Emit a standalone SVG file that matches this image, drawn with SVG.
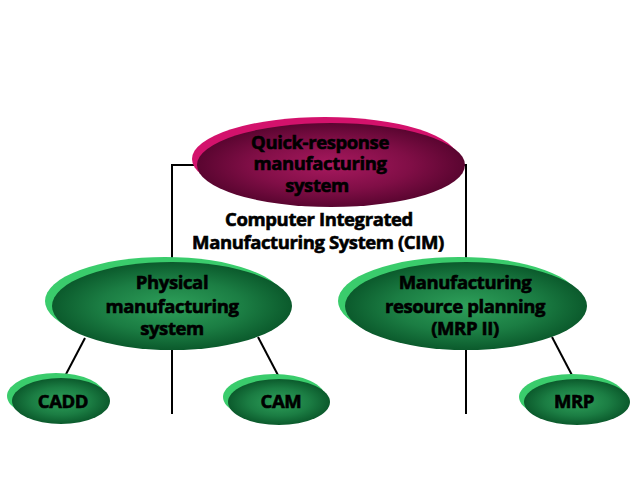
<svg xmlns="http://www.w3.org/2000/svg" width="638" height="479" viewBox="0 0 638 479">
<defs>
<radialGradient id="gG" cx="50%" cy="50%" r="50%">
<stop offset="0" stop-color="#2ea05a"/>
<stop offset="0.6" stop-color="#1b7d43"/>
<stop offset="1" stop-color="#0b5a2c"/>
</radialGradient>
<radialGradient id="gM" cx="50%" cy="50%" r="50%">
<stop offset="0" stop-color="#a8195f"/>
<stop offset="0.6" stop-color="#800e46"/>
<stop offset="1" stop-color="#5a0530"/>
</radialGradient>
</defs>
<style>
.bg{fill:#3acc6c}
.bm{fill:#d3126c}
.fg{fill:url(#gG)}
.fm{fill:url(#gM)}
.t{font-family:"Open Sans","Liberation Sans",sans-serif;font-weight:700;font-size:18.5px;letter-spacing:-0.4px;fill:#000;text-anchor:middle;stroke:#000;stroke-width:0.6px}
.c{fill:none;stroke:#000;stroke-width:2}
</style>
<rect width="638" height="479" fill="#fff"/>
<g id="connectors">
<polyline class="c" points="198,165 172,165 172,262"/>
<polyline class="c" points="460,165 466,165 466,262"/>
<line class="c" x1="172" y1="350" x2="172" y2="414"/>
<line class="c" x1="466" y1="350" x2="466" y2="414"/>
<line class="c" x1="85" y1="338" x2="64" y2="378"/>
<line class="c" x1="258" y1="337" x2="280" y2="379"/>
<line class="c" x1="552" y1="337" x2="574" y2="379"/>
</g>
<g id="qrm">
<ellipse class="bm" cx="325" cy="159" rx="133" ry="42"/>
<ellipse class="fm" cx="331" cy="165" rx="134" ry="42"/>
<text class="t" x="320" y="149">Quick-response</text>
<text class="t" x="320" y="170">manufacturing</text>
<text class="t" x="317" y="192">system</text>
</g>
<g id="cim">
<text class="t" x="319" y="226">Computer Integrated</text>
<text class="t" x="318" y="249">Manufacturing System (CIM)</text>
</g>
<g id="physical">
<ellipse class="bg" cx="165" cy="301" rx="120" ry="44"/>
<ellipse class="fg" cx="172" cy="306" rx="120" ry="44"/>
<text class="t" x="172" y="289">Physical</text>
<text class="t" x="172" y="313">manufacturing</text>
<text class="t" x="172" y="335">system</text>
</g>
<g id="mrp2">
<ellipse class="bg" cx="459" cy="301" rx="121" ry="44"/>
<ellipse class="fg" cx="466" cy="306" rx="121" ry="44"/>
<text class="t" x="465" y="289">Manufacturing</text>
<text class="t" x="465" y="313">resource planning</text>
<text class="t" x="465" y="335">(MRP II)</text>
</g>
<g id="cadd">
<ellipse class="bg" cx="56" cy="396" rx="49" ry="23"/>
<ellipse class="fg" cx="61" cy="401" rx="49" ry="23"/>
<text class="t" x="63" y="408">CADD</text>
</g>
<g id="cam">
<ellipse class="bg" cx="274" cy="397" rx="51" ry="23"/>
<ellipse class="fg" cx="279" cy="402" rx="51" ry="23"/>
<text class="t" x="281" y="408">CAM</text>
</g>
<g id="mrp">
<ellipse class="bg" cx="572" cy="397" rx="53" ry="23"/>
<ellipse class="fg" cx="577" cy="402" rx="53" ry="23"/>
<text class="t" x="574" y="408">MRP</text>
</g>
</svg>
